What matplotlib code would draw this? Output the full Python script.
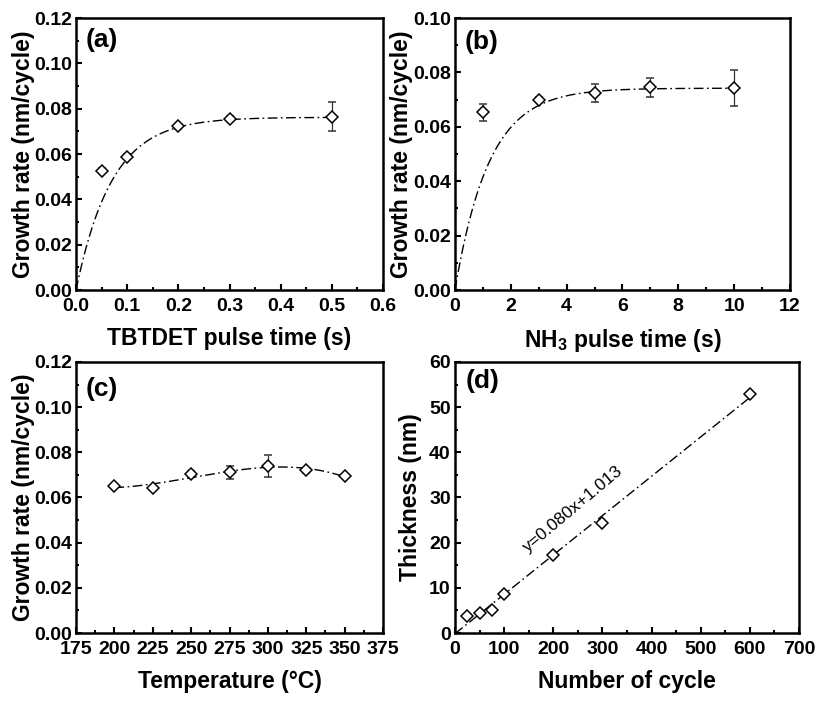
import numpy as np
import matplotlib
matplotlib.use("Agg")
import matplotlib.pyplot as plt
from matplotlib.ticker import MultipleLocator

plt.rcParams['font.family'] = ['Liberation Sans', 'DejaVu Sans']
plt.rcParams['font.weight'] = 'bold'
plt.rcParams['mathtext.default'] = 'regular'

# (a) TBTDET pulse time
a_x = [0.05, 0.1, 0.2, 0.3, 0.5]
a_y = [0.0527, 0.0589, 0.0722, 0.0756, 0.0764]
a_err = [0.001, 0.001, 0.001, 0.001, 0.0064]
a_fit_A, a_fit_tau = 0.0762, 0.07

# (b) NH3 pulse time
b_x = [1, 3, 5, 7, 10]
b_y = [0.0653, 0.0700, 0.0723, 0.0745, 0.0742]
b_err = [0.003, 0.001, 0.0033, 0.0034, 0.0066]
b_fit_A, b_fit_tau = 0.0742, 1.22

# (c) temperature
c_x = [200, 225, 250, 275, 300, 325, 350]
c_y = [0.0650, 0.0641, 0.0706, 0.0711, 0.0739, 0.0720, 0.0695]
c_err = [0.001, 0.001, 0.001, 0.0029, 0.005, 0.001, 0.001]

# (d) thickness vs cycles
d_x = [25, 50, 75, 100, 200, 300, 600]
d_y = [3.8, 4.5, 5.0, 8.65, 17.2, 24.4, 53.0]
d_eq = 'y=0.080x+1.013'

fig = plt.figure(figsize=(8.22, 7.01), dpi=100)
ax_a = fig.add_axes([0.0925, 0.5863, 0.3735, 0.388])
ax_b = fig.add_axes([0.5535, 0.5863, 0.4075, 0.388])
ax_c = fig.add_axes([0.0925, 0.097, 0.3735, 0.3866])
ax_d = fig.add_axes([0.5535, 0.097, 0.4185, 0.3866])

fit_ls = (0, (7, 2.5, 1.2, 2.5))
mk = dict(marker='D', ms=6.5, mfc='white', mec='black', mew=1.1,
          ls='none', ecolor='#333333', elinewidth=0.9, capsize=3, capthick=0.9, zorder=3)


def style(ax, xlim, xmaj, ylim, ymaj, label, ly):
    ax.set_xlim(*xlim)
    ax.set_ylim(*ylim)
    ax.xaxis.set_major_locator(MultipleLocator(xmaj))
    ax.xaxis.set_minor_locator(MultipleLocator(xmaj / 2))
    ax.yaxis.set_major_locator(MultipleLocator(ymaj))
    ax.yaxis.set_minor_locator(MultipleLocator(ymaj / 2))
    ax.tick_params(which='both', direction='in', top=False, right=False,
                   width=1.5, labelsize=14)
    ax.tick_params(axis='y', pad=3)
    ax.tick_params(axis='x', pad=5.5)
    ax.tick_params(which='major', length=4.5)
    ax.tick_params(which='minor', length=2.5)
    for s in ax.spines.values():
        s.set_linewidth(1.8)
    for t in ax.get_xticklabels() + ax.get_yticklabels():
        t.set_fontweight('bold')
    ax.text(0.03, ly, label, transform=ax.transAxes, fontsize=19,
            fontweight='bold', va='top', ha='left')


# (a)
xs = np.linspace(0, a_x[-1], 200)
ax_a.plot(xs, a_fit_A * (1 - np.exp(-xs / a_fit_tau)), color='black', lw=1.0, ls=fit_ls)
ax_a.errorbar(a_x, a_y, yerr=a_err, **mk)
style(ax_a, (0, 0.6), 0.1, (0, 0.12), 0.02, '(a)', 0.965)
ax_a.set_xlabel('TBTDET pulse time (s)', fontsize=16.5, fontweight='bold')
ax_a.set_ylabel('Growth rate (nm/cycle)', fontsize=16.5, fontweight='bold')

# (b)
xs = np.linspace(0, b_x[-1], 200)
ax_b.plot(xs, b_fit_A * (1 - np.exp(-xs / b_fit_tau)), color='black', lw=1.0, ls=fit_ls)
ax_b.errorbar(b_x, b_y, yerr=b_err, **mk)
style(ax_b, (0, 12), 2, (0, 0.10), 0.02, '(b)', 0.955)
ax_b.set_xlabel('NH$_3$ pulse time (s)', fontsize=16.5, fontweight='bold')
ax_b.set_ylabel('Growth rate (nm/cycle)', fontsize=16.5, fontweight='bold')

# (c)
cp = np.polyfit(c_x, c_y, 3)
xs = np.linspace(c_x[0], c_x[-1], 200)
ax_c.plot(xs, np.polyval(cp, xs), color='black', lw=1.0, ls=fit_ls)
ax_c.errorbar(c_x, c_y, yerr=c_err, **mk)
style(ax_c, (175, 375), 25, (0, 0.12), 0.02, '(c)', 0.945)
ax_c.set_xlabel('Temperature (°C)', fontsize=16.5, fontweight='bold')
ax_c.set_ylabel('Growth rate (nm/cycle)', fontsize=16.5, fontweight='bold')

# (d)
dp = np.polyfit(d_x, d_y, 1)
xs = np.linspace(0, d_x[-1], 50)
ax_d.plot(xs, np.polyval(dp, xs), color='black', lw=1.0, ls=fit_ls)
ax_d.errorbar(d_x, d_y, yerr=None, **mk)
style(ax_d, (0, 700), 100, (0, 60), 10, '(d)', 0.975)
ax_d.text(240, 27.5, d_eq, fontsize=12.5, fontweight='normal', rotation=40,
          ha='center', va='center', rotation_mode='anchor')
ax_d.set_xlabel('Number of cycle', fontsize=16.5, fontweight='bold')
ax_d.set_ylabel('Thickness (nm)', fontsize=16.5, fontweight='bold')

for ax in (ax_a, ax_b, ax_c, ax_d):
    ax.xaxis.set_label_coords(0.5, -0.135)
ax_a.yaxis.set_label_coords(-0.134, 0.5)
ax_c.yaxis.set_label_coords(-0.134, 0.5)
ax_b.yaxis.set_label_coords(-0.125, 0.5)
ax_d.yaxis.set_label_coords(-0.096, 0.5)

fig.savefig('out.png', dpi=100)
